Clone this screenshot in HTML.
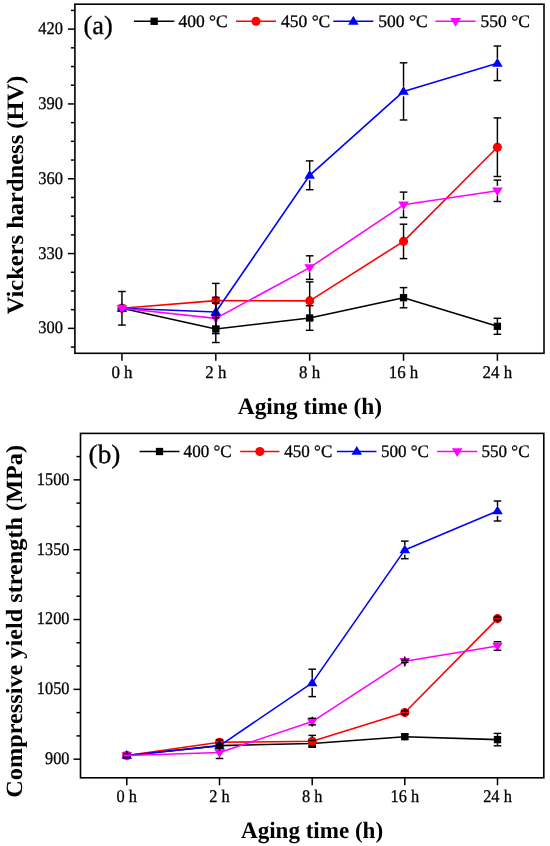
<!DOCTYPE html>
<html><head><meta charset="utf-8"><title>Aging time charts</title>
<style>html,body{margin:0;padding:0;background:#fff;overflow:hidden;}svg{display:block;}</style></head>
<body><svg width="550" height="846" viewBox="0 0 550 846">
<rect width="550" height="846" fill="#fff"/>
<g stroke="#000" stroke-width="1.5" fill="none"><line x1="67.90" y1="328.36" x2="74.90" y2="328.36"/><line x1="67.90" y1="253.56" x2="74.90" y2="253.56"/><line x1="67.90" y1="178.75" x2="74.90" y2="178.75"/><line x1="67.90" y1="103.94" x2="74.90" y2="103.94"/><line x1="67.90" y1="29.14" x2="74.90" y2="29.14"/><line x1="70.90" y1="347.07" x2="74.90" y2="347.07"/><line x1="70.90" y1="309.66" x2="74.90" y2="309.66"/><line x1="70.90" y1="290.96" x2="74.90" y2="290.96"/><line x1="70.90" y1="272.26" x2="74.90" y2="272.26"/><line x1="70.90" y1="234.86" x2="74.90" y2="234.86"/><line x1="70.90" y1="216.15" x2="74.90" y2="216.15"/><line x1="70.90" y1="197.45" x2="74.90" y2="197.45"/><line x1="70.90" y1="160.05" x2="74.90" y2="160.05"/><line x1="70.90" y1="141.35" x2="74.90" y2="141.35"/><line x1="70.90" y1="122.64" x2="74.90" y2="122.64"/><line x1="70.90" y1="85.24" x2="74.90" y2="85.24"/><line x1="70.90" y1="66.54" x2="74.90" y2="66.54"/><line x1="70.90" y1="47.84" x2="74.90" y2="47.84"/><line x1="70.90" y1="10.43" x2="74.90" y2="10.43"/><line x1="121.95" y1="353.30" x2="121.95" y2="360.80"/><line x1="215.81" y1="353.30" x2="215.81" y2="360.80"/><line x1="309.67" y1="353.30" x2="309.67" y2="360.80"/><line x1="403.53" y1="353.30" x2="403.53" y2="360.80"/><line x1="497.39" y1="353.30" x2="497.39" y2="360.80"/></g>
<polyline points="121.95,308.30 215.81,329.00 309.67,318.00 403.53,297.70 497.39,326.30" fill="none" stroke="#000000" stroke-width="1.6" stroke-linejoin="round"/>
<rect x="118.30" y="304.65" width="7.30" height="7.30" fill="#000000"/>
<rect x="212.16" y="325.35" width="7.30" height="7.30" fill="#000000"/>
<rect x="306.02" y="314.35" width="7.30" height="7.30" fill="#000000"/>
<rect x="399.88" y="294.05" width="7.30" height="7.30" fill="#000000"/>
<rect x="493.74" y="322.65" width="7.30" height="7.30" fill="#000000"/>
<polyline points="121.95,308.30 215.81,300.60 309.67,300.90 403.53,241.40 497.39,147.20" fill="none" stroke="#ff0000" stroke-width="1.6" stroke-linejoin="round"/>
<circle cx="121.95" cy="308.30" r="4.55" fill="#ff0000"/>
<circle cx="215.81" cy="300.60" r="4.55" fill="#ff0000"/>
<circle cx="309.67" cy="300.90" r="4.55" fill="#ff0000"/>
<circle cx="403.53" cy="241.40" r="4.55" fill="#ff0000"/>
<circle cx="497.39" cy="147.20" r="4.55" fill="#ff0000"/>
<polyline points="121.95,308.30 215.81,312.00 309.67,175.30 403.53,91.40 497.39,63.30" fill="none" stroke="#0000ff" stroke-width="1.6" stroke-linejoin="round"/>
<polygon points="121.95,302.84 127.25,311.64 116.65,311.64" fill="#0000ff"/>
<polygon points="215.81,306.54 221.11,315.34 210.51,315.34" fill="#0000ff"/>
<polygon points="309.67,169.84 314.97,178.64 304.37,178.64" fill="#0000ff"/>
<polygon points="403.53,85.94 408.83,94.74 398.23,94.74" fill="#0000ff"/>
<polygon points="497.39,57.84 502.69,66.64 492.09,66.64" fill="#0000ff"/>
<polyline points="121.95,308.30 215.81,318.40 309.67,267.60 403.53,204.80 497.39,190.80" fill="none" stroke="#ff00ff" stroke-width="1.6" stroke-linejoin="round"/>
<polygon points="121.95,313.76 127.25,304.96 116.65,304.96" fill="#ff00ff"/>
<polygon points="215.81,323.86 221.11,315.06 210.51,315.06" fill="#ff00ff"/>
<polygon points="309.67,273.06 314.97,264.26 304.37,264.26" fill="#ff00ff"/>
<polygon points="403.53,210.26 408.83,201.46 398.23,201.46" fill="#ff00ff"/>
<polygon points="497.39,196.26 502.69,187.46 492.09,187.46" fill="#ff00ff"/>
<g stroke="#000" stroke-width="1.45"><line x1="121.95" y1="291.50" x2="121.95" y2="304.80"/><line x1="121.95" y1="311.80" x2="121.95" y2="325.10"/><line x1="118.15" y1="291.50" x2="125.75" y2="291.50"/><line x1="118.15" y1="325.10" x2="125.75" y2="325.10"/><line x1="215.81" y1="315.50" x2="215.81" y2="325.50"/><line x1="215.81" y1="332.50" x2="215.81" y2="342.50"/><line x1="212.01" y1="315.50" x2="219.61" y2="315.50"/><line x1="212.01" y1="342.50" x2="219.61" y2="342.50"/><line x1="309.67" y1="305.70" x2="309.67" y2="314.50"/><line x1="309.67" y1="321.50" x2="309.67" y2="330.30"/><line x1="305.87" y1="305.70" x2="313.47" y2="305.70"/><line x1="305.87" y1="330.30" x2="313.47" y2="330.30"/><line x1="403.53" y1="287.60" x2="403.53" y2="294.20"/><line x1="403.53" y1="301.20" x2="403.53" y2="307.80"/><line x1="399.73" y1="287.60" x2="407.33" y2="287.60"/><line x1="399.73" y1="307.80" x2="407.33" y2="307.80"/><line x1="497.39" y1="318.30" x2="497.39" y2="322.80"/><line x1="497.39" y1="329.80" x2="497.39" y2="334.30"/><line x1="493.59" y1="318.30" x2="501.19" y2="318.30"/><line x1="493.59" y1="334.30" x2="501.19" y2="334.30"/></g>
<g stroke="#000" stroke-width="1.45"><line x1="215.81" y1="283.40" x2="215.81" y2="296.80"/><line x1="215.81" y1="304.40" x2="215.81" y2="317.80"/><line x1="212.01" y1="283.40" x2="219.61" y2="283.40"/><line x1="212.01" y1="317.80" x2="219.61" y2="317.80"/><line x1="309.67" y1="281.90" x2="309.67" y2="297.10"/><line x1="309.67" y1="304.70" x2="309.67" y2="319.90"/><line x1="305.87" y1="281.90" x2="313.47" y2="281.90"/><line x1="305.87" y1="319.90" x2="313.47" y2="319.90"/><line x1="403.53" y1="224.20" x2="403.53" y2="237.60"/><line x1="403.53" y1="245.20" x2="403.53" y2="258.60"/><line x1="399.73" y1="224.20" x2="407.33" y2="224.20"/><line x1="399.73" y1="258.60" x2="407.33" y2="258.60"/><line x1="497.39" y1="117.90" x2="497.39" y2="143.40"/><line x1="497.39" y1="151.00" x2="497.39" y2="176.50"/><line x1="493.59" y1="117.90" x2="501.19" y2="117.90"/><line x1="493.59" y1="176.50" x2="501.19" y2="176.50"/></g>
<g stroke="#000" stroke-width="1.45"><line x1="215.81" y1="297.40" x2="215.81" y2="307.10"/><line x1="215.81" y1="316.90" x2="215.81" y2="326.60"/><line x1="212.01" y1="297.40" x2="219.61" y2="297.40"/><line x1="212.01" y1="326.60" x2="219.61" y2="326.60"/><line x1="309.67" y1="160.90" x2="309.67" y2="170.40"/><line x1="309.67" y1="180.20" x2="309.67" y2="189.70"/><line x1="305.87" y1="160.90" x2="313.47" y2="160.90"/><line x1="305.87" y1="189.70" x2="313.47" y2="189.70"/><line x1="403.53" y1="62.80" x2="403.53" y2="86.50"/><line x1="403.53" y1="96.30" x2="403.53" y2="120.00"/><line x1="399.73" y1="62.80" x2="407.33" y2="62.80"/><line x1="399.73" y1="120.00" x2="407.33" y2="120.00"/><line x1="497.39" y1="46.00" x2="497.39" y2="58.40"/><line x1="497.39" y1="68.20" x2="497.39" y2="80.60"/><line x1="493.59" y1="46.00" x2="501.19" y2="46.00"/><line x1="493.59" y1="80.60" x2="501.19" y2="80.60"/></g>
<g stroke="#000" stroke-width="1.45"><line x1="215.81" y1="303.20" x2="215.81" y2="313.50"/><line x1="215.81" y1="323.30" x2="215.81" y2="333.60"/><line x1="212.01" y1="303.20" x2="219.61" y2="303.20"/><line x1="212.01" y1="333.60" x2="219.61" y2="333.60"/><line x1="309.67" y1="255.80" x2="309.67" y2="262.70"/><line x1="309.67" y1="272.50" x2="309.67" y2="279.40"/><line x1="305.87" y1="255.80" x2="313.47" y2="255.80"/><line x1="305.87" y1="279.40" x2="313.47" y2="279.40"/><line x1="403.53" y1="192.10" x2="403.53" y2="199.90"/><line x1="403.53" y1="209.70" x2="403.53" y2="217.50"/><line x1="399.73" y1="192.10" x2="407.33" y2="192.10"/><line x1="399.73" y1="217.50" x2="407.33" y2="217.50"/><line x1="497.39" y1="180.10" x2="497.39" y2="185.90"/><line x1="497.39" y1="195.70" x2="497.39" y2="201.50"/><line x1="493.59" y1="180.10" x2="501.19" y2="180.10"/><line x1="493.59" y1="201.50" x2="501.19" y2="201.50"/></g>
<rect x="74.90" y="4.20" width="469.10" height="349.10" fill="none" stroke="#000" stroke-width="1.6"/>
<g stroke="#000" stroke-width="1.5" fill="none"><line x1="73.50" y1="759.18" x2="80.50" y2="759.18"/><line x1="73.50" y1="689.35" x2="80.50" y2="689.35"/><line x1="73.50" y1="619.52" x2="80.50" y2="619.52"/><line x1="73.50" y1="549.69" x2="80.50" y2="549.69"/><line x1="73.50" y1="479.85" x2="80.50" y2="479.85"/><line x1="76.50" y1="735.90" x2="80.50" y2="735.90"/><line x1="76.50" y1="712.62" x2="80.50" y2="712.62"/><line x1="76.50" y1="666.07" x2="80.50" y2="666.07"/><line x1="76.50" y1="642.79" x2="80.50" y2="642.79"/><line x1="76.50" y1="596.24" x2="80.50" y2="596.24"/><line x1="76.50" y1="572.96" x2="80.50" y2="572.96"/><line x1="76.50" y1="526.41" x2="80.50" y2="526.41"/><line x1="76.50" y1="503.13" x2="80.50" y2="503.13"/><line x1="76.50" y1="456.58" x2="80.50" y2="456.58"/><line x1="126.80" y1="777.80" x2="126.80" y2="785.30"/><line x1="219.50" y1="777.80" x2="219.50" y2="785.30"/><line x1="312.20" y1="777.80" x2="312.20" y2="785.30"/><line x1="404.80" y1="777.80" x2="404.80" y2="785.30"/><line x1="497.50" y1="777.80" x2="497.50" y2="785.30"/></g>
<polyline points="126.80,755.50 219.50,745.60 312.20,743.50 404.80,736.70 497.50,739.60" fill="none" stroke="#000000" stroke-width="1.6" stroke-linejoin="round"/>
<rect x="123.15" y="751.85" width="7.30" height="7.30" fill="#000000"/>
<rect x="215.85" y="741.95" width="7.30" height="7.30" fill="#000000"/>
<rect x="308.55" y="739.85" width="7.30" height="7.30" fill="#000000"/>
<rect x="401.15" y="733.05" width="7.30" height="7.30" fill="#000000"/>
<rect x="493.85" y="735.95" width="7.30" height="7.30" fill="#000000"/>
<polyline points="126.80,755.50 219.50,742.30 312.20,741.30 404.80,712.50 497.50,618.60" fill="none" stroke="#ff0000" stroke-width="1.6" stroke-linejoin="round"/>
<circle cx="126.80" cy="755.50" r="4.55" fill="#ff0000"/>
<circle cx="219.50" cy="742.30" r="4.55" fill="#ff0000"/>
<circle cx="312.20" cy="741.30" r="4.55" fill="#ff0000"/>
<circle cx="404.80" cy="712.50" r="4.55" fill="#ff0000"/>
<circle cx="497.50" cy="618.60" r="4.55" fill="#ff0000"/>
<polyline points="126.80,755.50 219.50,745.80 312.20,682.90 404.80,549.90 497.50,511.00" fill="none" stroke="#0000ff" stroke-width="1.6" stroke-linejoin="round"/>
<polygon points="126.80,750.04 132.10,758.84 121.50,758.84" fill="#0000ff"/>
<polygon points="219.50,740.34 224.80,749.14 214.20,749.14" fill="#0000ff"/>
<polygon points="312.20,677.44 317.50,686.24 306.90,686.24" fill="#0000ff"/>
<polygon points="404.80,544.44 410.10,553.24 399.50,553.24" fill="#0000ff"/>
<polygon points="497.50,505.54 502.80,514.34 492.20,514.34" fill="#0000ff"/>
<polyline points="126.80,755.50 219.50,752.50 312.20,721.60 404.80,661.30 497.50,646.00" fill="none" stroke="#ff00ff" stroke-width="1.6" stroke-linejoin="round"/>
<polygon points="126.80,760.96 132.10,752.16 121.50,752.16" fill="#ff00ff"/>
<polygon points="219.50,757.96 224.80,749.16 214.20,749.16" fill="#ff00ff"/>
<polygon points="312.20,727.06 317.50,718.26 306.90,718.26" fill="#ff00ff"/>
<polygon points="404.80,666.76 410.10,657.96 399.50,657.96" fill="#ff00ff"/>
<polygon points="497.50,651.46 502.80,642.66 492.20,642.66" fill="#ff00ff"/>
<g stroke="#000" stroke-width="1.45"><line x1="126.80" y1="753.60" x2="126.80" y2="752.00"/><line x1="126.80" y1="759.00" x2="126.80" y2="757.40"/><line x1="123.00" y1="753.60" x2="130.60" y2="753.60"/><line x1="123.00" y1="757.40" x2="130.60" y2="757.40"/><line x1="312.20" y1="740.50" x2="312.20" y2="740.00"/><line x1="312.20" y1="747.00" x2="312.20" y2="746.50"/><line x1="308.40" y1="740.50" x2="316.00" y2="740.50"/><line x1="308.40" y1="746.50" x2="316.00" y2="746.50"/><line x1="404.80" y1="734.20" x2="404.80" y2="733.20"/><line x1="404.80" y1="740.20" x2="404.80" y2="739.20"/><line x1="401.00" y1="734.20" x2="408.60" y2="734.20"/><line x1="401.00" y1="739.20" x2="408.60" y2="739.20"/><line x1="497.50" y1="733.40" x2="497.50" y2="736.10"/><line x1="497.50" y1="743.10" x2="497.50" y2="745.80"/><line x1="493.70" y1="733.40" x2="501.30" y2="733.40"/><line x1="493.70" y1="745.80" x2="501.30" y2="745.80"/></g>
<g stroke="#000" stroke-width="1.45"><line x1="219.50" y1="739.80" x2="219.50" y2="738.50"/><line x1="219.50" y1="746.10" x2="219.50" y2="744.80"/><line x1="215.70" y1="739.80" x2="223.30" y2="739.80"/><line x1="215.70" y1="744.80" x2="223.30" y2="744.80"/><line x1="312.20" y1="735.40" x2="312.20" y2="737.50"/><line x1="312.20" y1="745.10" x2="312.20" y2="747.20"/><line x1="308.40" y1="735.40" x2="316.00" y2="735.40"/><line x1="308.40" y1="747.20" x2="316.00" y2="747.20"/><line x1="404.80" y1="711.00" x2="404.80" y2="708.70"/><line x1="404.80" y1="716.30" x2="404.80" y2="714.00"/><line x1="401.00" y1="711.00" x2="408.60" y2="711.00"/><line x1="401.00" y1="714.00" x2="408.60" y2="714.00"/><line x1="497.50" y1="617.10" x2="497.50" y2="614.80"/><line x1="497.50" y1="622.40" x2="497.50" y2="620.10"/><line x1="493.70" y1="617.10" x2="501.30" y2="617.10"/><line x1="493.70" y1="620.10" x2="501.30" y2="620.10"/></g>
<g stroke="#000" stroke-width="1.45"><line x1="219.50" y1="743.50" x2="219.50" y2="740.90"/><line x1="219.50" y1="750.70" x2="219.50" y2="748.10"/><line x1="215.70" y1="743.50" x2="223.30" y2="743.50"/><line x1="215.70" y1="748.10" x2="223.30" y2="748.10"/><line x1="312.20" y1="669.20" x2="312.20" y2="678.00"/><line x1="312.20" y1="687.80" x2="312.20" y2="696.60"/><line x1="308.40" y1="669.20" x2="316.00" y2="669.20"/><line x1="308.40" y1="696.60" x2="316.00" y2="696.60"/><line x1="404.80" y1="541.10" x2="404.80" y2="545.00"/><line x1="404.80" y1="554.80" x2="404.80" y2="558.70"/><line x1="401.00" y1="541.10" x2="408.60" y2="541.10"/><line x1="401.00" y1="558.70" x2="408.60" y2="558.70"/><line x1="497.50" y1="501.00" x2="497.50" y2="506.10"/><line x1="497.50" y1="515.90" x2="497.50" y2="521.00"/><line x1="493.70" y1="501.00" x2="501.30" y2="501.00"/><line x1="493.70" y1="521.00" x2="501.30" y2="521.00"/></g>
<g stroke="#000" stroke-width="1.45"><line x1="219.50" y1="746.50" x2="219.50" y2="747.60"/><line x1="219.50" y1="757.40" x2="219.50" y2="758.50"/><line x1="215.70" y1="746.50" x2="223.30" y2="746.50"/><line x1="215.70" y1="758.50" x2="223.30" y2="758.50"/><line x1="312.20" y1="718.30" x2="312.20" y2="716.70"/><line x1="312.20" y1="726.50" x2="312.20" y2="724.90"/><line x1="308.40" y1="718.30" x2="316.00" y2="718.30"/><line x1="308.40" y1="724.90" x2="316.00" y2="724.90"/><line x1="404.80" y1="660.20" x2="404.80" y2="656.40"/><line x1="404.80" y1="666.20" x2="404.80" y2="662.40"/><line x1="401.00" y1="660.20" x2="408.60" y2="660.20"/><line x1="401.00" y1="662.40" x2="408.60" y2="662.40"/><line x1="497.50" y1="641.70" x2="497.50" y2="641.10"/><line x1="497.50" y1="650.90" x2="497.50" y2="650.30"/><line x1="493.70" y1="641.70" x2="501.30" y2="641.70"/><line x1="493.70" y1="650.30" x2="501.30" y2="650.30"/></g>
<rect x="80.50" y="433.40" width="463.30" height="344.40" fill="none" stroke="#000" stroke-width="1.6"/>
<g font-family="Liberation Serif, serif" text-rendering="geometricPrecision" fill="#000">
<text transform="translate(63.00,333.36) scale(0.925,1.0)" font-size="17.8" text-anchor="end" stroke="#000" stroke-width="0.3">300</text><text transform="translate(63.00,258.56) scale(0.925,1.0)" font-size="17.8" text-anchor="end" stroke="#000" stroke-width="0.3">330</text><text transform="translate(63.00,183.75) scale(0.925,1.0)" font-size="17.8" text-anchor="end" stroke="#000" stroke-width="0.3">360</text><text transform="translate(63.00,108.94) scale(0.925,1.0)" font-size="17.8" text-anchor="end" stroke="#000" stroke-width="0.3">390</text><text transform="translate(63.00,34.14) scale(0.925,1.0)" font-size="17.8" text-anchor="end" stroke="#000" stroke-width="0.3">420</text>
<text transform="translate(69.40,764.08) scale(0.915,1.0)" font-size="17.8" text-anchor="end" stroke="#000" stroke-width="0.3">900</text><text transform="translate(69.40,694.25) scale(0.915,1.0)" font-size="17.8" text-anchor="end" stroke="#000" stroke-width="0.3">1050</text><text transform="translate(69.40,624.42) scale(0.915,1.0)" font-size="17.8" text-anchor="end" stroke="#000" stroke-width="0.3">1200</text><text transform="translate(69.40,554.59) scale(0.915,1.0)" font-size="17.8" text-anchor="end" stroke="#000" stroke-width="0.3">1350</text><text transform="translate(69.40,484.75) scale(0.915,1.0)" font-size="17.8" text-anchor="end" stroke="#000" stroke-width="0.3">1500</text>
<text transform="translate(121.95,378.20) scale(0.95,1.0)" font-size="17.8" text-anchor="middle" stroke="#000" stroke-width="0.3">0 h</text><text transform="translate(215.81,378.20) scale(0.95,1.0)" font-size="17.8" text-anchor="middle" stroke="#000" stroke-width="0.3">2 h</text><text transform="translate(309.67,378.20) scale(0.95,1.0)" font-size="17.8" text-anchor="middle" stroke="#000" stroke-width="0.3">8 h</text><text transform="translate(403.53,378.20) scale(0.95,1.0)" font-size="17.8" text-anchor="middle" stroke="#000" stroke-width="0.3">16 h</text><text transform="translate(497.39,378.20) scale(0.95,1.0)" font-size="17.8" text-anchor="middle" stroke="#000" stroke-width="0.3">24 h</text>
<text transform="translate(126.80,802.00) scale(0.92,1.0)" font-size="17.8" text-anchor="middle" stroke="#000" stroke-width="0.3">0 h</text><text transform="translate(219.50,802.00) scale(0.92,1.0)" font-size="17.8" text-anchor="middle" stroke="#000" stroke-width="0.3">2 h</text><text transform="translate(312.20,802.00) scale(0.92,1.0)" font-size="17.8" text-anchor="middle" stroke="#000" stroke-width="0.3">8 h</text><text transform="translate(404.80,802.00) scale(0.92,1.0)" font-size="17.8" text-anchor="middle" stroke="#000" stroke-width="0.3">16 h</text><text transform="translate(497.50,802.00) scale(0.92,1.0)" font-size="17.8" text-anchor="middle" stroke="#000" stroke-width="0.3">24 h</text>
<text transform="translate(83.60,33.90) scale(1.0,1.0)" font-size="26.3" text-anchor="start" stroke="#000" stroke-width="0.3">(a)</text>
<text transform="translate(88.60,462.50) scale(1.03,1.0)" font-size="26.5" text-anchor="start" stroke="#000" stroke-width="0.3">(b)</text>
<line x1="134.00" y1="21.30" x2="174.30" y2="21.30" stroke="#000000" stroke-width="1.6"/><rect x="150.50" y="17.65" width="7.30" height="7.30" fill="#000000"/><text transform="translate(178.40,26.90) scale(1.0,1.0)" font-size="17.5" text-anchor="start" stroke="#000" stroke-width="0.3">400 °C</text><line x1="236.00" y1="21.30" x2="276.00" y2="21.30" stroke="#ff0000" stroke-width="1.6"/><circle cx="256.00" cy="21.30" r="4.55" fill="#ff0000"/><text transform="translate(281.00,26.90) scale(1.0,1.0)" font-size="17.5" text-anchor="start" stroke="#000" stroke-width="0.3">450 °C</text><line x1="333.30" y1="21.30" x2="373.40" y2="21.30" stroke="#0000ff" stroke-width="1.6"/><polygon points="353.35,15.84 358.65,24.64 348.05,24.64" fill="#0000ff"/><text transform="translate(378.30,26.90) scale(1.0,1.0)" font-size="17.5" text-anchor="start" stroke="#000" stroke-width="0.3">500 °C</text><line x1="435.40" y1="21.30" x2="475.70" y2="21.30" stroke="#ff00ff" stroke-width="1.6"/><polygon points="455.55,26.76 460.85,17.96 450.25,17.96" fill="#ff00ff"/><text transform="translate(480.60,26.90) scale(1.0,1.0)" font-size="17.5" text-anchor="start" stroke="#000" stroke-width="0.3">550 °C</text>
<line x1="139.50" y1="451.50" x2="179.50" y2="451.50" stroke="#000000" stroke-width="1.6"/><rect x="155.85" y="447.85" width="7.30" height="7.30" fill="#000000"/><text transform="translate(183.60,457.10) scale(0.975,1.0)" font-size="17.5" text-anchor="start" stroke="#000" stroke-width="0.3">400 °C</text><line x1="240.20" y1="451.50" x2="279.50" y2="451.50" stroke="#ff0000" stroke-width="1.6"/><circle cx="259.85" cy="451.50" r="4.55" fill="#ff0000"/><text transform="translate(284.20,457.10) scale(0.975,1.0)" font-size="17.5" text-anchor="start" stroke="#000" stroke-width="0.3">450 °C</text><line x1="337.00" y1="451.50" x2="376.50" y2="451.50" stroke="#0000ff" stroke-width="1.6"/><polygon points="356.75,446.04 362.05,454.84 351.45,454.84" fill="#0000ff"/><text transform="translate(380.90,457.10) scale(0.975,1.0)" font-size="17.5" text-anchor="start" stroke="#000" stroke-width="0.3">500 °C</text><line x1="437.10" y1="451.50" x2="477.30" y2="451.50" stroke="#ff00ff" stroke-width="1.6"/><polygon points="457.20,456.96 462.50,448.16 451.90,448.16" fill="#ff00ff"/><text transform="translate(481.50,457.10) scale(0.975,1.0)" font-size="17.5" text-anchor="start" stroke="#000" stroke-width="0.3">550 °C</text>
</g>
<g font-family="Liberation Serif, serif" text-rendering="geometricPrecision" fill="#000">
<text transform="translate(309.85,414.00) scale(1.0,1.0)" font-size="23.4" text-anchor="middle" font-weight="bold">Aging time (h)</text>
<text transform="translate(312.05,837.50) scale(0.985,1.0)" font-size="23.4" text-anchor="middle" font-weight="bold">Aging time (h)</text>
<text transform="translate(23.40,194.95) rotate(-90) scale(1.0,0.96)" font-size="24.5" text-anchor="middle" font-weight="bold">Vickers hardness (HV)</text>
<text transform="translate(21.60,621.30) rotate(-90) scale(1.0,0.96)" font-size="24.25" text-anchor="middle" font-weight="bold">Compressive yield strength (MPa)</text>
</g>
</svg></body></html>
